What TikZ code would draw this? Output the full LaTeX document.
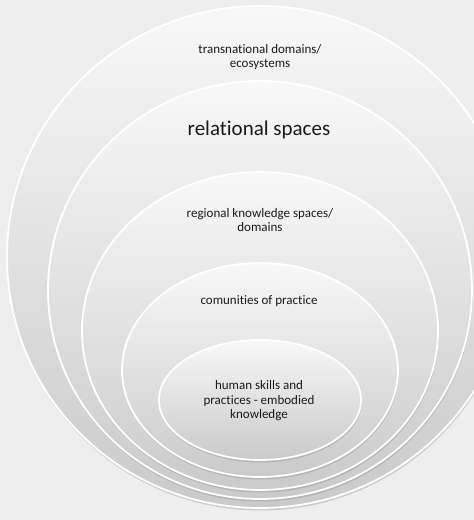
\documentclass[tikz,border=0pt]{standalone}
\usepackage{fontspec}
\setmainfont{Carlito}[Ligatures=NoCommon]
\usetikzlibrary{shadows}
\definecolor{bg}{HTML}{EEEEEE}
\definecolor{ringtop}{HTML}{F8F8F8}
\definecolor{ringbot}{HTML}{CACACA}
\definecolor{txt}{HTML}{1A1A1A}
\begin{document}
\begin{tikzpicture}[x=1pt,y=-1pt,
  ring/.style={draw=white, line width=1.8pt, top color=ringtop, bottom color=ringbot,
    drop shadow={shadow xshift=0.6pt, shadow yshift=-2.5pt, opacity=0.3}},
  lbl/.style={text=txt, align=center, font=\fontsize{13}{14.5}\selectfont},
  biglbl/.style={text=txt, align=center, font=\fontsize{21}{24}\selectfont}]
\fill[bg] (0,0) rectangle (474,520);
\useasboundingbox (0,0) rectangle (474,520);
\begin{scope}
\clip (0,0) rectangle (474,520);
\path[ring] (260,257) ellipse [x radius=253, y radius=251];
\path[ring] (260,290) ellipse [x radius=212, y radius=209];
\path[ring] (260,331) ellipse [x radius=178, y radius=159];
\path[ring] (260,370) ellipse [x radius=138, y radius=107];
\path[ring] (260,400) ellipse [x radius=101, y radius=60];
\end{scope}
\node[lbl] (t1) at (260,57) {transnational domains/\\ecosystems};
\node[biglbl] (t2) at (259,130) {relational spaces};
\node[lbl] (t3) at (260,220) {regional knowledge spaces/\\domains};
\node[lbl] (t4) at (259,301) {comunities of practice};
\node[lbl] (t5) at (259,401) {human skills and\\practices - embodied\\knowledge};
\end{tikzpicture}
\end{document}
